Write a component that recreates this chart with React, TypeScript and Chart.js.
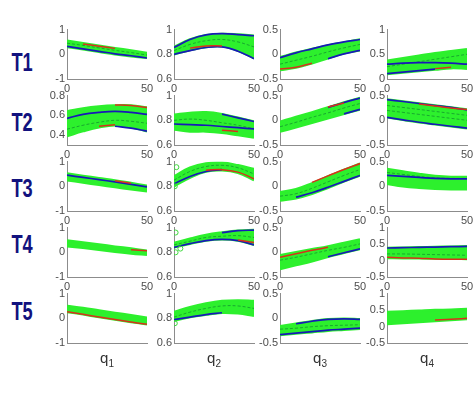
import React, { useEffect, useRef } from 'react';
import { Chart, registerables } from 'chart.js';

Chart.register(...registerables);

// ---------- data ----------
const ROW_LABELS = ['T1', 'T2', 'T3', 'T4', 'T5'];
const COL_SUBSCRIPTS = ['1', '2', '3', '4'];
const X_SAMPLES = [0, 10, 20, 30, 40, 50];
const X_TICKS = [0, 50];

const Y_MIN = [
  [-1, 0.6, -0.5, 0],
  [0.3, 0.6, -0.5, -0.5],
  [-1, 0.6, -0.5, -0.5],
  [-1, 0.6, -0.5, -0.5],
  [-1, 0.6, -0.5, -0.5],
];
const Y_MAX = [
  [1, 1, 0.5, 1],
  [0.8, 1, 0.5, 0.5],
  [1, 1, 0.5, 0.5],
  [1, 1, 0.5, 1],
  [1, 1, 0.5, 1],
];
const Y_TICKS = [
  [[-1, 0, 1], [0.6, 0.8, 1], [-0.5, 0, 0.5], [0, 0.5, 1]],
  [[0.4, 0.6, 0.8], [0.6, 0.8, 1], [-0.5, 0, 0.5], [-0.5, 0, 0.5]],
  [[-1, 0, 1], [0.6, 0.8, 1], [-0.5, 0, 0.5], [-0.5, 0, 0.5]],
  [[-1, 0, 1], [0.6, 0.8, 1], [-0.5, 0, 0.5], [-0.5, 0, 0.5, 1]],
  [[-1, 0, 1], [0.6, 0.8, 1], [-0.5, 0, 0.5], [-0.5, 0, 0.5, 1]],
];

type Band = {
  hi: number[];
  lo: number[];
  blue: (number | null)[][];
  red: (number | null)[][];
  dark: (number | null)[][];
  outliers?: { x: number; y: number }[];
};

const T1_Q1: Band = {
  hi: [0.55, 0.45, 0.35, 0.25, 0.15, 0.05],
  lo: [0.3, 0.2, 0.1, 0.0, -0.08, -0.14],
  blue: [[0.32, 0.22, 0.12, 0.02, -0.06, -0.15]],
  red: [[null, 0.42, 0.33, 0.24, null, null]],
  dark: [[0.45, 0.36, 0.26, 0.16, 0.07, -0.03]],
};
const T1_Q2: Band = {
  hi: [0.86, 0.92, 0.955, 0.965, 0.96, 0.95],
  lo: [0.8, 0.835, 0.86, 0.865, 0.83, 0.77],
  blue: [[0.855, 0.92, 0.957, 0.967, 0.96, 0.95], [0.8, 0.83, 0.855, 0.86, 0.825, 0.765]],
  red: [[null, 0.85, 0.868, 0.868, null, null]],
  dark: [[0.83, 0.88, 0.91, 0.92, 0.9, 0.86]],
};
const T1_Q3: Band = {
  hi: [-0.06, 0.03, 0.11, 0.18, 0.24, 0.3],
  lo: [-0.32, -0.27, -0.18, -0.08, 0.02, 0.08],
  blue: [[-0.07, 0.03, 0.11, 0.19, 0.25, 0.3], [null, null, null, -0.09, 0.01, 0.08]],
  red: [[-0.3, -0.26, -0.18, null, null, null]],
  dark: [[-0.2, -0.12, -0.04, 0.05, 0.13, 0.2]],
};
const T1_Q4: Band = {
  hi: [0.37, 0.42, 0.47, 0.52, 0.56, 0.6],
  lo: [0.1, 0.13, 0.16, 0.19, 0.22, 0.21],
  blue: [[0.3, 0.32, 0.33, 0.33, 0.32, 0.3], [0.11, 0.14, 0.17, 0.2, null, null]],
  red: [[null, null, null, 0.21, 0.24, null]],
  dark: [[0.25, 0.3, 0.35, 0.4, 0.45, 0.5]],
};
const T2_Q1: Band = {
  hi: [0.64, 0.67, 0.69, 0.7, 0.7, 0.68],
  lo: [0.39, 0.44, 0.48, 0.5, 0.48, 0.44],
  blue: [[0.57, 0.61, 0.63, 0.64, 0.63, 0.61], [null, null, null, 0.49, 0.47, 0.44]],
  red: [[null, null, null, 0.705, 0.7, 0.68], [null, null, 0.49, 0.505, null, null]],
  dark: [[0.46, 0.5, 0.53, 0.55, 0.54, 0.52]],
};
const T2_Q2: Band = {
  hi: [0.845, 0.86, 0.865, 0.85, 0.82, 0.79],
  lo: [0.725, 0.71, 0.71, 0.7, 0.68, 0.66],
  blue: [[0.77, 0.765, 0.76, 0.75, 0.74, 0.73], [null, null, null, 0.85, 0.82, 0.79]],
  red: [[null, null, null, 0.72, 0.71, null]],
  dark: [[0.8, 0.81, 0.8, 0.78, 0.76, 0.73]],
};
const T2_Q3: Band = {
  hi: [-0.03, 0.07, 0.16, 0.26, 0.36, 0.45],
  lo: [-0.23, -0.14, -0.05, 0.04, 0.13, 0.22],
  blue: [[null, null, null, 0.26, 0.36, 0.45], [null, null, null, null, 0.13, 0.22]],
  red: [[null, null, null, 0.27, 0.35, null]],
  dark: [[-0.13, -0.04, 0.06, 0.15, 0.25, 0.34]],
};
const T2_Q4: Band = {
  hi: [0.42, 0.38, 0.34, 0.3, 0.26, 0.22],
  lo: [0.06, 0.01, -0.04, -0.08, -0.12, -0.16],
  blue: [[0.42, 0.38, 0.34, 0.3, 0.26, 0.21], [0.06, 0.01, -0.04, -0.08, -0.12, -0.16]],
  red: [[null, null, 0.33, 0.29, 0.25, 0.22]],
  dark: [[0.3, 0.26, 0.22, 0.18, 0.14, 0.1], [0.2, 0.16, 0.12, 0.08, 0.04, 0.0]],
};
const T3_Q1: Band = {
  hi: [0.52, 0.42, 0.33, 0.24, 0.13, 0.02],
  lo: [0.25, 0.15, 0.06, -0.03, -0.12, -0.2],
  blue: [[0.45, 0.36, 0.27, 0.18, 0.08, -0.02]],
  red: [[null, null, null, 0.22, 0.12, null]],
  dark: [],
};
const T3_Q2: Band = {
  hi: [0.88, 0.95, 0.985, 0.99, 0.97, 0.94],
  lo: [0.8, 0.87, 0.92, 0.93, 0.91, 0.85],
  blue: [[0.82, 0.88, 0.92, 0.935, null, null]],
  red: [[null, null, 0.93, 0.935, 0.915, 0.86]],
  dark: [[0.85, 0.92, 0.96, 0.97, 0.95, 0.9]],
  outliers: [{ x: 1.5, y: 0.955 }, { x: 0.5, y: 0.8 }],
};
const T3_Q3: Band = {
  hi: [-0.12, -0.06, 0.06, 0.2, 0.33, 0.46],
  lo: [-0.29, -0.24, -0.15, -0.03, 0.1, 0.22],
  blue: [[null, -0.22, -0.13, -0.02, 0.1, 0.22]],
  red: [[null, null, 0.08, 0.21, 0.34, 0.46]],
  dark: [[-0.2, -0.15, -0.04, 0.09, 0.22, 0.34]],
};
const T3_Q4: Band = {
  hi: [0.35, 0.3, 0.25, 0.21, 0.19, 0.19],
  lo: [0.05, 0.0, -0.03, -0.05, -0.06, -0.06],
  blue: [[0.22, 0.2, 0.18, 0.16, 0.15, 0.15]],
  red: [],
  dark: [[0.28, 0.24, 0.2, 0.17, 0.16, 0.16]],
};
const T4_Q1: Band = {
  hi: [0.48, 0.4, 0.32, 0.23, 0.15, 0.06],
  lo: [0.25, 0.18, 0.1, 0.02, -0.05, -0.1],
  blue: [],
  red: [[null, null, null, null, 0.1, 0.06]],
  dark: [],
};
const T4_Q2: Band = {
  hi: [0.875, 0.91, 0.94, 0.96, 0.975, 0.98],
  lo: [0.84, 0.87, 0.895, 0.905, 0.895, 0.86],
  blue: [[0.84, 0.87, 0.895, 0.905, 0.895, 0.86], [null, null, null, 0.96, 0.975, 0.98]],
  red: [[null, null, null, null, 0.9, 0.88]],
  dark: [[0.86, 0.89, 0.92, 0.93, 0.935, 0.92]],
  outliers: [{ x: 1, y: 0.96 }, { x: 1, y: 0.8 }, { x: 4, y: 0.83 }],
};
const T4_Q3: Band = {
  hi: [-0.06, 0.0, 0.06, 0.12, 0.19, 0.26],
  lo: [-0.34, -0.26, -0.18, -0.09, -0.01, 0.07],
  blue: [[null, null, null, -0.09, -0.01, 0.07]],
  red: [[-0.1, -0.03, 0.04, 0.1, null, null]],
  dark: [[-0.16, -0.1, -0.03, 0.04, 0.1, 0.17]],
};
const T4_Q4: Band = {
  hi: [0.38, 0.39, 0.4, 0.41, 0.42, 0.43],
  lo: [0.08, 0.07, 0.07, 0.06, 0.06, 0.05],
  blue: [[0.38, 0.39, 0.4, 0.41, 0.42, 0.43]],
  red: [[0.1, 0.08, 0.07, 0.05, 0.04, 0.04]],
  dark: [[0.2, 0.2, 0.19, 0.18, 0.17, 0.16]],
};
const T5_Q1: Band = {
  hi: [0.5, 0.42, 0.32, 0.22, 0.12, 0.02],
  lo: [0.26, 0.16, 0.05, -0.05, -0.15, -0.24],
  blue: [],
  red: [[0.27, 0.16, 0.05, -0.05, -0.15, -0.24]],
  dark: [],
};
const T5_Q2: Band = {
  hi: [0.85, 0.89, 0.92, 0.94, 0.945, 0.94],
  lo: [0.78, 0.81, 0.83, 0.845, 0.84, 0.82],
  blue: [[0.79, 0.81, 0.83, 0.845, null, null]],
  red: [],
  dark: [[0.81, 0.85, 0.88, 0.9, 0.9, 0.88]],
  outliers: [{ x: 0.5, y: 0.76 }],
};
const T5_Q3: Band = {
  hi: [-0.16, -0.11, -0.06, -0.02, -0.01, -0.02],
  lo: [-0.34, -0.31, -0.28, -0.25, -0.23, -0.21],
  blue: [[null, -0.11, -0.06, -0.02, -0.01, -0.02], [-0.33, -0.3, -0.27, -0.24, -0.22, -0.2]],
  red: [],
  dark: [[-0.22, -0.2, -0.17, -0.15, -0.14, -0.13]],
};
const T5_Q4: Band = {
  hi: [0.44, 0.46, 0.48, 0.5, 0.51, 0.53],
  lo: [0.08, 0.11, 0.14, 0.17, 0.2, 0.23],
  blue: [],
  red: [[null, null, null, 0.2, 0.22, 0.25]],
  dark: [],
};

const PANELS: Band[][] = [
  [T1_Q1, T1_Q2, T1_Q3, T1_Q4],
  [T2_Q1, T2_Q2, T2_Q3, T2_Q4],
  [T3_Q1, T3_Q2, T3_Q3, T3_Q4],
  [T4_Q1, T4_Q2, T4_Q3, T4_Q4],
  [T5_Q1, T5_Q2, T5_Q3, T5_Q4],
];

// ---------- layout ----------
const COL_LEFT = [67, 174, 280, 387];
const ROW_TOP = [29, 95, 161, 227, 293];
const ROW_LABEL_Y = [62, 122, 188, 244, 311];
const PLOT_W = 80;
const PLOT_H = 50;
const PAD_L = 36;
const PAD_T = 8;
const PAD_R = 12;
const PAD_B = 18;

const TICK_FONT = { family: 'Liberation Sans, Arial, sans-serif', size: 11 };
const TICK_COLOR = '#4d4d4d';
const AXIS_COLOR = '#8c8c8c';
const GREEN = '#2df02d';
const BLUE = '#1818b8';
const RED = '#d8301c';
const DARK = 'rgba(10,110,50,0.55)';

function Panel({ r, c }: { r: number; c: number }) {
  const ref = useRef<HTMLCanvasElement>(null);
  useEffect(() => {
    if (!ref.current) return;
    const p = PANELS[r][c];
    const pts = (arr: (number | null)[]) => arr.map((y, i) => ({ x: X_SAMPLES[i], y }));
    const line = (data: (number | null)[], color: string, width: number, dash: number[] = []) => ({
      data: pts(data),
      borderColor: color,
      borderWidth: width,
      borderDash: dash,
      pointRadius: 0,
      tension: 0.4,
      fill: false,
      spanGaps: false,
    });
    const datasets: any[] = [];
    if (p.outliers) {
      datasets.push({
        type: 'scatter',
        data: p.outliers,
        showLine: false,
        pointRadius: 2.5,
        pointStyle: 'circle',
        borderColor: '#3ed83e',
        backgroundColor: 'rgba(0,0,0,0)',
        borderWidth: 1,
      });
    }
    p.red.forEach((l) => datasets.push(line(l, RED, 1.5)));
    p.blue.forEach((l) => datasets.push(line(l, BLUE, 1.7)));
    p.dark.forEach((l) => datasets.push(line(l, DARK, 1, [3, 2])));
    datasets.push({ ...line(p.hi, GREEN, 2.5), fill: '+1', backgroundColor: GREEN });
    datasets.push(line(p.lo, GREEN, 2.5));

    const chart = new Chart(ref.current, {
      type: 'line',
      data: { datasets },
      options: {
        animation: false,
        responsive: false,
        devicePixelRatio: 1,
        layout: { padding: { left: 0, top: PAD_T, right: PAD_R, bottom: 0 } },
        plugins: { legend: { display: false }, tooltip: { enabled: false } },
        scales: {
          x: {
            type: 'linear',
            min: 0,
            max: 50,
            afterBuildTicks: (s: any) => {
              s.ticks = X_TICKS.map((v) => ({ value: v }));
            },
            afterFit: (s: any) => {
              s.height = PAD_B;
            },
            ticks: {
              display: r < 4,
              color: TICK_COLOR,
              font: TICK_FONT,
              padding: 3,
              maxRotation: 0,
              autoSkip: false,
            },
            grid: { display: false, drawTicks: false },
            border: { display: true, color: AXIS_COLOR, width: 1 },
          },
          y: {
            type: 'linear',
            min: Y_MIN[r][c],
            max: Y_MAX[r][c],
            afterBuildTicks: (s: any) => {
              s.ticks = Y_TICKS[r][c].map((v) => ({ value: v }));
            },
            afterFit: (s: any) => {
              s.width = PAD_L;
            },
            ticks: {
              color: TICK_COLOR,
              font: TICK_FONT,
              padding: 2,
              autoSkip: false,
              callback: (v: any) => String(v),
            },
            grid: { display: false, drawTicks: false },
            border: { display: true, color: AXIS_COLOR, width: 1 },
          },
        },
      },
    });
    return () => chart.destroy();
  }, [r, c]);

  return (
    <canvas
      ref={ref}
      width={PAD_L + PLOT_W + PAD_R}
      height={PAD_T + PLOT_H + PAD_B}
      style={{
        position: 'absolute',
        left: COL_LEFT[c] - PAD_L,
        top: ROW_TOP[r] - PAD_T,
        width: PAD_L + PLOT_W + PAD_R,
        height: PAD_T + PLOT_H + PAD_B,
      }}
    />
  );
}

export default function App() {
  return (
    <div
      style={{
        position: 'absolute',
        left: 0,
        top: 0,
        width: 474,
        height: 399,
        background: '#ffffff',
        overflow: 'hidden',
        fontFamily: 'Liberation Sans, Arial, sans-serif',
      }}
    >
      {ROW_LABELS.map((t, r) => (
        <div
          key={t}
          style={{
            position: 'absolute',
            left: 4,
            top: ROW_LABEL_Y[r] - 15,
            width: 36,
            height: 30,
            lineHeight: '30px',
            textAlign: 'center',
            fontSize: 26,
            fontWeight: 'bold',
            color: '#12127e',
            transform: 'scaleX(0.7)',
          }}
        >
          {t}
        </div>
      ))}
      {PANELS.map((row, r) => row.map((_, c) => <Panel key={`${r}-${c}`} r={r} c={c} />))}
      {COL_SUBSCRIPTS.map((s, c) => (
        <div
          key={s}
          style={{
            position: 'absolute',
            left: COL_LEFT[c] + PLOT_W / 2 - 20,
            top: 349,
            width: 40,
            textAlign: 'center',
            fontSize: 15,
            color: '#333333',
          }}
        >
          q<sub style={{ fontSize: 10 }}>{s}</sub>
        </div>
      ))}
    </div>
  );
}
